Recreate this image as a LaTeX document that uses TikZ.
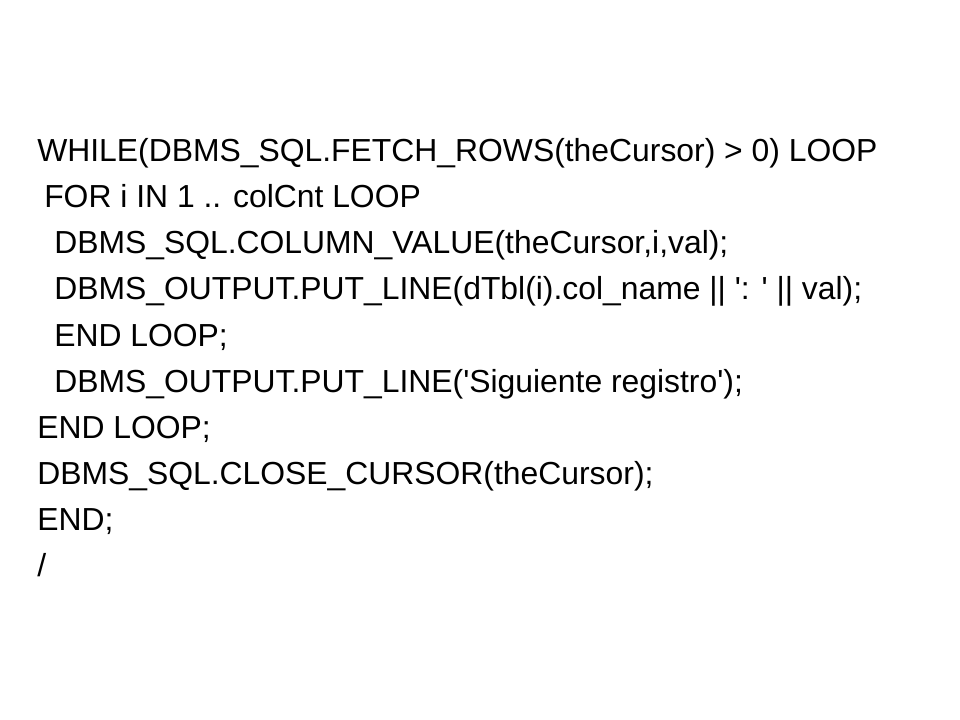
\documentclass[tikz,border=0pt]{standalone}
\usepackage{fontspec}
\setmainfont{Liberation Sans}
\begin{document}
\begin{tikzpicture}
[every node/.style={inner sep=0pt, anchor=base west, font=\fontsize{23.9pt}{28pt}\selectfont}]
\useasboundingbox (0pt, 0pt) rectangle (720pt, -540pt);
\node (l1) at (27.75pt, -121.5pt) {WHILE(DBMS\_SQL.FETCH\_ROWS(theCursor) > 0) LOOP};
\node (l2) at (33.0pt, -156.0pt) {FOR i IN 1 .. colCnt LOOP};
\node (l3) at (40.5pt, -190.5pt) {DBMS\_SQL.COLUMN\_VALUE(theCursor,i,val);};
\node (l4) at (40.5pt, -225.0pt) {DBMS\_OUTPUT.PUT\_LINE(dTbl(i).col\_name || \textquotesingle: \textquotesingle\ || val);};
\node (l5) at (40.5pt, -259.5pt) {END LOOP;};
\node (l6) at (40.5pt, -294.0pt) {DBMS\_OUTPUT.PUT\_LINE(\textquotesingle Siguiente registro\textquotesingle);};
\node (l7) at (27.75pt, -328.5pt) {END LOOP;};
\node (l8) at (27.75pt, -363.0pt) {DBMS\_SQL.CLOSE\_CURSOR(theCursor);};
\node (l9) at (27.75pt, -397.5pt) {END;};
\node (l10) at (27.75pt, -432.0pt) {/};
\end{tikzpicture}
\end{document}
